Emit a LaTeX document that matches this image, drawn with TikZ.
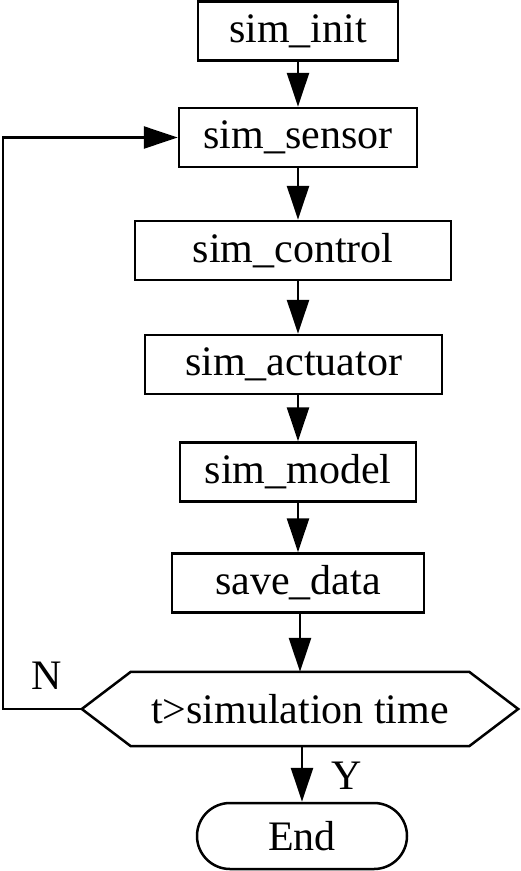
\documentclass[tikz,border=0pt]{standalone}
\usepackage{fontspec}
\setmainfont{Liberation Serif}
\usetikzlibrary{arrows.meta,calc}
\begin{document}
\begin{tikzpicture}[x=1pt,y=-1pt,
  box/.style={draw, line width=2.5pt, minimum height=59pt, inner sep=0pt, font=\fontsize{42}{46}\selectfont},
  arr/.style={line width=2.5pt, -{Triangle[length=34pt,width=22pt]}},
  lab/.style={font=\fontsize{42}{46}\selectfont, inner sep=0pt}]
\useasboundingbox (0,0) rectangle (520,871);
\node[box, minimum width=200pt] (init) at (298,31) {sim\_init};
\node[box, minimum width=238pt] (sensor) at (298,137.5) {sim\_sensor};
\node[box, minimum width=316pt] (control) at (293,250.5) {sim\_control};
\node[box, minimum width=297pt] (act) at (293.5,364.5) {sim\_actuator};
\node[box, minimum width=236pt] (model) at (298,472) {sim\_model};
\node[box, minimum width=252pt] (save) at (298,583) {save\_data};
\node[lab, minimum width=436pt, minimum height=74pt] (dec) at (300,709) {t>simulation time};
\draw[line width=2.5pt, line join=miter] (dec.west) -- ([xshift=49pt]dec.north west) -- ([xshift=-49pt]dec.north east) -- (dec.east) -- ([xshift=-49pt]dec.south east) -- ([xshift=49pt]dec.south west) -- cycle;
\node[box, minimum width=210pt, minimum height=66pt, rounded corners=33pt] (end) at (302,836) {End};
\coordinate (lp) at (3,709);
\draw[arr] (init.south -| 298,0) -- (sensor.north -| 298,0);
\draw[arr] (sensor.south -| 298,0) -- (control.north -| 298,0);
\draw[arr] (control.south -| 298,0) -- (act.north -| 298,0);
\draw[arr] (act.south -| 298,0) -- (model.north -| 298,0);
\draw[arr] (model.south -| 298,0) -- (save.north -| 298,0);
\draw[arr] (save.south -| 300,0) -- (dec.north -| 300,0);
\draw[arr] (dec.south -| 302,0) -- (end.north -| 302,0);
\draw[arr] (dec.west) -- (lp) |- (sensor.west);
\node[lab] (n) at (47,676) {N};
\node[lab] (y) at (347,776) {Y};
\end{tikzpicture}
\end{document}
